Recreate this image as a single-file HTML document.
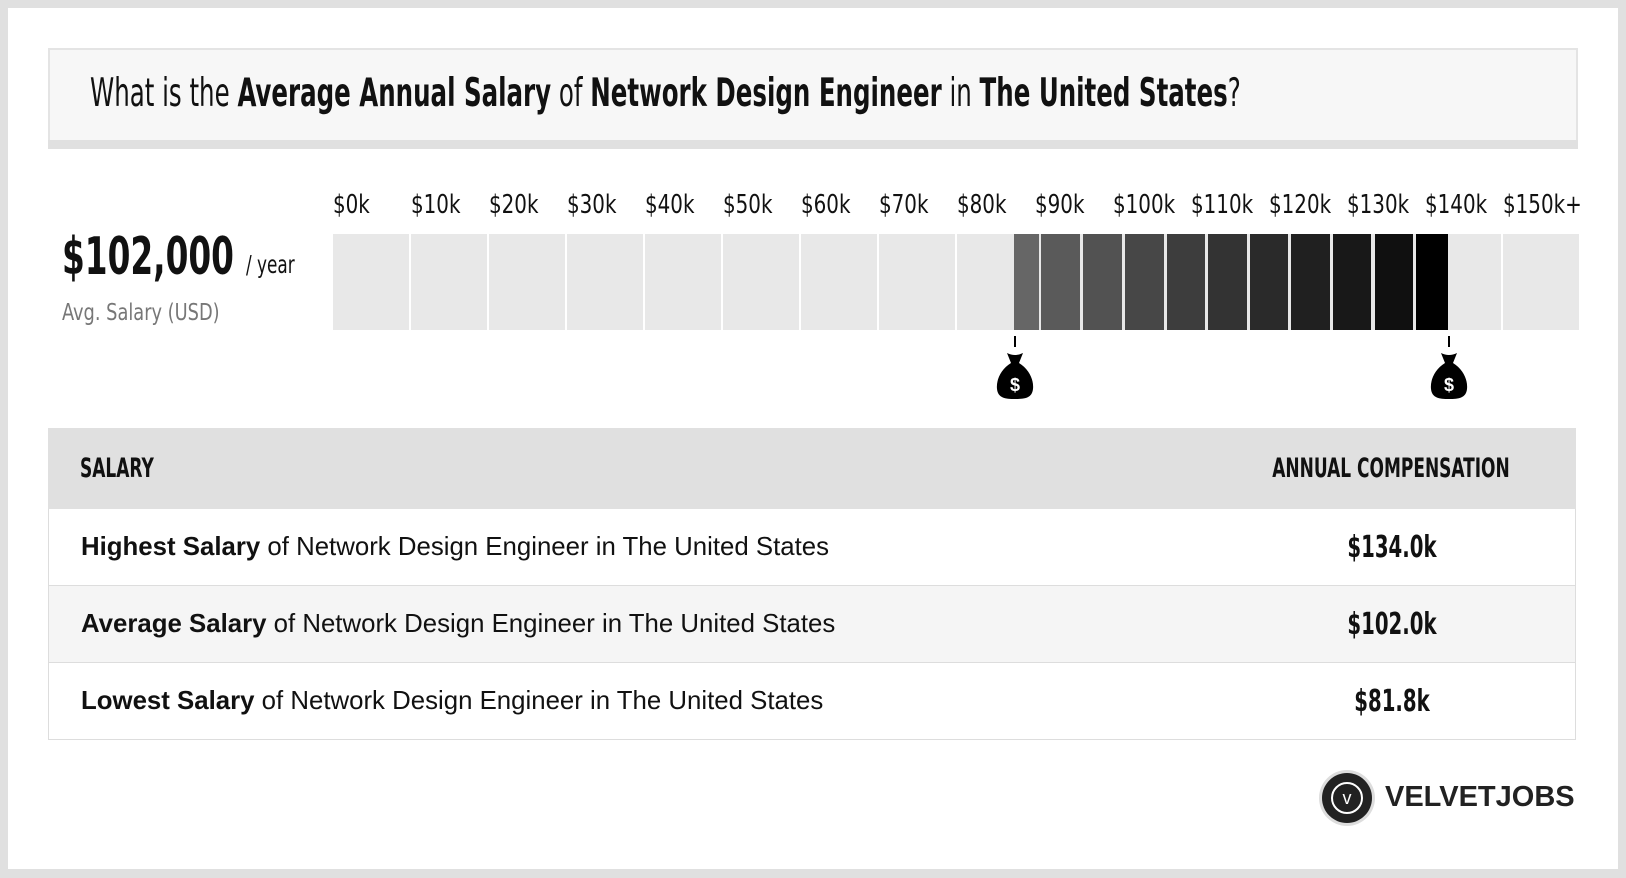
<!DOCTYPE html>
<html><head><style>
body{margin:0;width:1626px;height:878px;background:#e0e0e0;position:relative;overflow:hidden;font-family:"DejaVu Sans Condensed","Liberation Sans",sans-serif}
.card{position:absolute;left:8px;top:8px;width:1610px;height:861px;background:#fff}
.a{position:absolute;white-space:nowrap}
.lab{position:absolute;top:190px;font-size:26px;color:#111;transform:scaleX(0.85);transform-origin:left}
.seg{position:absolute;top:234px;height:96px}
.row{position:absolute;left:48px;width:1528px;height:77px;border:1px solid #ddd;border-top:none;box-sizing:border-box}
.rt{position:absolute;left:32px;top:24px;font-family:"Liberation Sans",sans-serif;font-size:25.8px;color:#111}
.rv{position:absolute;left:1210px;width:266px;text-align:center;top:21px;font-size:30px;font-weight:bold;color:#111;transform:scaleX(0.73)}
</style></head><body>
<div class="card"></div>
<div class="a" style="left:48px;top:48px;width:1530px;height:92px;background:#f7f7f7;border:2px solid #e4e4e4;border-bottom:none;box-sizing:border-box"></div>
<div class="a" style="left:48px;top:140px;width:1530px;height:9px;background:#e0e0e0"></div>
<div class="a" style="left:90px;top:71px;font-size:39px;color:#111;transform:scaleX(0.698);transform-origin:left">What is the <b>Average Annual Salary</b> of <b>Network Design Engineer</b> in <b>The United States</b>?</div>

<div class="a" style="left:62px;top:227px;font-size:52px;font-weight:bold;color:#111;transform:scaleX(0.70);transform-origin:left">$102,000</div>
<div class="a" style="left:246px;top:250px;font-size:25px;color:#111;transform:scaleX(0.75);transform-origin:left">/ year</div>
<div class="a" style="left:62px;top:300px;font-size:23px;color:#777;transform:scaleX(0.86);transform-origin:left">Avg. Salary (USD)</div>

<div class="lab" style="left:333px">$0k</div>
<div class="lab" style="left:411px">$10k</div>
<div class="lab" style="left:489px">$20k</div>
<div class="lab" style="left:567px">$30k</div>
<div class="lab" style="left:645px">$40k</div>
<div class="lab" style="left:723px">$50k</div>
<div class="lab" style="left:801px">$60k</div>
<div class="lab" style="left:879px">$70k</div>
<div class="lab" style="left:957px">$80k</div>
<div class="lab" style="left:1035px">$90k</div>
<div class="lab" style="left:1113px">$100k</div>
<div class="lab" style="left:1191px">$110k</div>
<div class="lab" style="left:1269px">$120k</div>
<div class="lab" style="left:1347px">$130k</div>
<div class="lab" style="left:1425px">$140k</div>
<div class="lab" style="left:1503px">$150k+</div>

<div class="seg" style="left:333px;width:1247px;background:repeating-linear-gradient(90deg,#e8e8e8 0,#e8e8e8 76px,#fff 76px,#fff 78px)"></div>
<div class="seg" style="left:1014px;width:25px;background:#666"></div>
<div class="seg" style="left:1041px;width:39px;background:#5a5a5a"></div>
<div class="seg" style="left:1083px;width:39px;background:#525252"></div>
<div class="seg" style="left:1125px;width:39px;background:#474747"></div>
<div class="seg" style="left:1167px;width:38px;background:#3d3d3d"></div>
<div class="seg" style="left:1208px;width:39px;background:#333"></div>
<div class="seg" style="left:1250px;width:38px;background:#2a2a2a"></div>
<div class="seg" style="left:1291px;width:39px;background:#202020"></div>
<div class="seg" style="left:1333px;width:38px;background:#181818"></div>
<div class="seg" style="left:1375px;width:38px;background:#101010"></div>
<div class="seg" style="left:1416px;width:32px;background:#000"></div>

<svg class="a" style="left:995px;top:336px" width="40" height="66" viewBox="0 0 40 66">
<rect x="19" y="0" width="2" height="11" fill="#000"/>
<path d="M12 17 Q20 21 28 17 L24 27 C34 33 39 44 38 53 C37 62 30 63 20 63 C10 63 3 62 2 53 C1 44 6 33 16 27 Z" fill="#000"/>
<text x="20" y="55" font-family="Liberation Sans" font-weight="bold" font-size="18" fill="#fff" text-anchor="middle">$</text>
</svg>
<svg class="a" style="left:1429px;top:336px" width="40" height="66" viewBox="0 0 40 66">
<rect x="19" y="0" width="2" height="11" fill="#000"/>
<path d="M12 17 Q20 21 28 17 L24 27 C34 33 39 44 38 53 C37 62 30 63 20 63 C10 63 3 62 2 53 C1 44 6 33 16 27 Z" fill="#000"/>
<text x="20" y="55" font-family="Liberation Sans" font-weight="bold" font-size="18" fill="#fff" text-anchor="middle">$</text>
</svg>

<div class="a" style="left:48px;top:428px;width:1528px;height:81px;background:#e0e0e0"></div>
<div class="a" style="left:80px;top:453px;font-size:27px;font-weight:bold;color:#111;transform:scaleX(0.7);transform-origin:left">SALARY</div>
<div class="a" style="left:1191px;width:400px;text-align:center;top:453px;font-size:27px;font-weight:bold;color:#111;transform:scaleX(0.7)">ANNUAL COMPENSATION</div>

<div class="row" style="top:509px;background:#fff"><div class="rt"><b>Highest Salary</b> of Network Design Engineer in The United States</div><div class="rv">$134.0k</div></div>
<div class="row" style="top:586px;background:#f5f5f5"><div class="rt"><b>Average Salary</b> of Network Design Engineer in The United States</div><div class="rv">$102.0k</div></div>
<div class="row" style="top:663px;background:#fff"><div class="rt"><b>Lowest Salary</b> of Network Design Engineer in The United States</div><div class="rv">$81.8k</div></div>

<div class="a" style="left:1322px;top:773px;width:50px;height:50px;border-radius:50%;background:#222;box-shadow:0 0 0 3px #ddd"></div>
<div class="a" style="left:1331px;top:782px;width:28px;height:28px;border-radius:50%;border:2px solid #fff;color:#fff;font-family:'Liberation Sans',sans-serif;font-size:18px;text-align:center;line-height:28px">v</div>
<div class="a" style="left:1385px;top:781px;font-family:'Liberation Sans',sans-serif;font-size:29px;font-weight:bold;color:#222">VELVETJOBS</div>
</body></html>
